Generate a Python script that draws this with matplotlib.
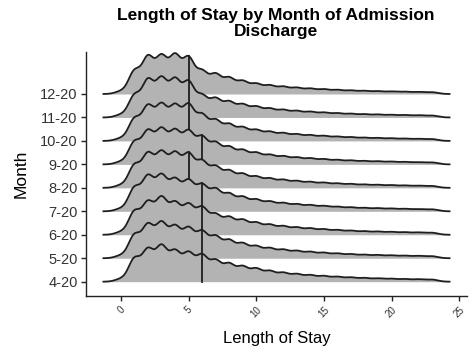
import numpy as np
import matplotlib
matplotlib.use("Agg")
import matplotlib.pyplot as plt

plt.rcParams["font.family"] = ["Liberation Sans", "DejaVu Sans"]

months = ["4-20", "5-20", "6-20", "7-20", "8-20", "9-20", "10-20", "11-20", "12-20"]
los_days = list(range(0, 24))

# relative number of stays per day of length of stay
counts_4_20 = [2.5, 22, 30, 33, 28, 26.5, 24.5, 19.5, 16.5, 14, 12, 9.8, 8.2, 7, 6, 5.2, 4.5, 3.9, 3.4, 3, 2.7, 2.4, 2.2, 2]
counts_5_20 = [2.5, 22, 31, 32.5, 29, 27.5, 24.5, 20, 16.5, 13.5, 11, 9.2, 7.8, 6.7, 5.8, 5, 4.3, 3.7, 3.2, 2.9, 2.6, 2.3, 2.1, 1.9]
counts_6_20 = [2.5, 22, 30, 34, 29, 27.5, 25, 18.5, 16, 13.5, 11, 9.2, 7.8, 6.7, 5.8, 5, 4.3, 3.7, 3.2, 2.9, 2.6, 2.3, 2.1, 1.9]
counts_7_20 = [2.5, 23, 33.5, 34, 30, 29, 25, 21, 16.5, 13.5, 11, 9.2, 7.8, 6.7, 5.8, 5, 4.3, 3.7, 3.2, 2.9, 2.6, 2.3, 2.1, 1.9]
counts_8_20 = [2.5, 22, 32.5, 33.5, 32.5, 32, 25, 20, 16, 13, 10.5, 8.8, 7.5, 6.4, 5.5, 4.8, 4.1, 3.6, 3.1, 2.8, 2.5, 2.2, 2, 1.8]
counts_9_20 = [2.5, 22, 32, 33.5, 32, 31.5, 26, 20.5, 16.5, 13.5, 11, 9, 7.7, 6.6, 5.7, 4.9, 4.2, 3.7, 3.2, 2.9, 2.6, 2.3, 2.1, 1.9]
counts_10_20 = [2.5, 22, 34, 35, 34, 35, 25, 20, 16, 13, 10.5, 8.8, 7.5, 6.4, 5.5, 4.8, 4.1, 3.6, 3.1, 2.8, 2.5, 2.2, 2, 1.8]
counts_11_20 = [2.5, 21, 35, 36, 35, 33, 20, 17.5, 14.5, 12, 10, 8.2, 7, 6, 5.2, 4.5, 3.9, 3.4, 3, 2.7, 2.4, 2.2, 2, 1.8]
counts_12_20 = [2.5, 22, 35, 35, 36, 34, 21, 18.5, 15, 12, 9.5, 8, 6.8, 5.8, 5, 4.4, 3.8, 3.3, 2.9, 2.6, 2.3, 2.1, 1.9, 1.7]
medians = [6, 6, 6, 6, 5, 6, 5, 5, 5]

all_counts = [counts_4_20, counts_5_20, counts_6_20, counts_7_20, counts_8_20,
              counts_9_20, counts_10_20, counts_11_20, counts_12_20]

bw = 0.43
scale = 1.76
days = np.array(los_days, dtype=float)
xs = np.linspace(days.min() - 3 * bw, days.max() + 3 * bw, 600)


def kde(counts):
    w = np.asarray(counts, dtype=float)
    w = w / w.sum()
    z = (xs[:, None] - days[None, :]) / bw
    return (np.exp(-0.5 * z ** 2) * w).sum(axis=1) / (bw * np.sqrt(2 * np.pi))


dens = [kde(c) for c in all_counts]
top = max(d.max() for d in dens)

fig = plt.figure(figsize=(4.74, 3.58), dpi=100)
ax = fig.add_axes([86 / 474, 62 / 358, 381 / 474, 244 / 358])

# draw from the top row down so lower ridges overlap the ones above
for i in range(len(months) - 1, -1, -1):
    base = i + 1
    h = dens[i] / top * scale
    z = 10 + (len(months) - i) * 3
    ax.fill_between(xs, base, base + h, color="#b3b3b3", lw=0, zorder=z)
    ax.plot(xs, base + h, color="#1e1e1e", lw=1.3, zorder=z + 1)
    m = medians[i]
    ax.plot([m, m], [base, base + np.interp(m, xs, h)], color="#1e1e1e", lw=1.3, zorder=z + 2)

ax.set_xlim(-2.58, 25.58)
ax.set_ylim(0.39, 10.79)
ax.set_yticks(range(1, len(months) + 1))
ax.set_yticklabels(months)
ax.set_xticks([0, 5, 10, 15, 20, 25])
ax.set_xticklabels(["0", "5", "10", "15", "20", "25"], rotation=45, ha="center", va="top")

for s in ["top", "right"]:
    ax.spines[s].set_visible(False)
for s in ["left", "bottom"]:
    ax.spines[s].set_color("#222222")
    ax.spines[s].set_linewidth(1.0)
ax.tick_params(axis="y", length=3.5, width=1, pad=2.5, labelsize=10.5, colors="#222222")
ax.tick_params(axis="x", length=3.5, width=1, pad=2.5, labelsize=7, colors="#222222")
ax.tick_params(axis="both", labelcolor="#333333")

ax.set_xlabel("Length of Stay", fontsize=12, va="center")
ax.xaxis.set_label_coords(0.5, -0.176)
ax.set_ylabel("Month", fontsize=12.5, ha="center", va="center")
ax.yaxis.set_label_coords(-0.169, 0.5)

fig.text(276 / 474, 1 - 8 / 358, "Length of Stay by Month of Admission\nDischarge",
         ha="center", va="top", fontsize=12.5, fontweight="bold", linespacing=1.05)

fig.savefig("out.png", dpi=100)
